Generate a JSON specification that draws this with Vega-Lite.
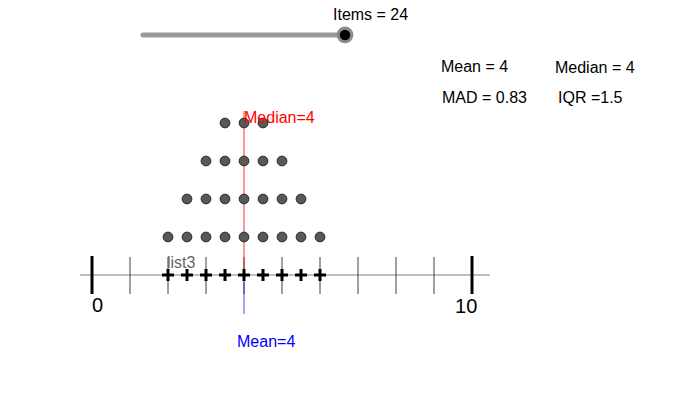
{
  "$schema": "https://vega.github.io/schema/vega-lite/v6.json",
  "width": 700,
  "height": 400,
  "padding": 0,
  "autosize": "none",
  "background": "white",
  "config": {"view": {"stroke": null}, "font": "Liberation Sans"},
  "datasets": {
    "dots": [
      {"value": 2, "stack": 1}, {"value": 2.5, "stack": 1}, {"value": 3, "stack": 1}, {"value": 3.5, "stack": 1}, {"value": 4, "stack": 1}, {"value": 4.5, "stack": 1}, {"value": 5, "stack": 1}, {"value": 5.5, "stack": 1}, {"value": 6, "stack": 1},
      {"value": 2.5, "stack": 2}, {"value": 3, "stack": 2}, {"value": 3.5, "stack": 2}, {"value": 4, "stack": 2}, {"value": 4.5, "stack": 2}, {"value": 5, "stack": 2}, {"value": 5.5, "stack": 2},
      {"value": 3, "stack": 3}, {"value": 3.5, "stack": 3}, {"value": 4, "stack": 3}, {"value": 4.5, "stack": 3}, {"value": 5, "stack": 3},
      {"value": 3.5, "stack": 4}, {"value": 4, "stack": 4}, {"value": 4.5, "stack": 4}
    ],
    "list3": [
      {"value": 2}, {"value": 2.5}, {"value": 3}, {"value": 3.5}, {"value": 4}, {"value": 4.5}, {"value": 5}, {"value": 5.5}, {"value": 6}
    ],
    "ticks": [
      {"t": 1}, {"t": 2}, {"t": 3}, {"t": 4}, {"t": 5}, {"t": 6}, {"t": 7}, {"t": 8}, {"t": 9}
    ],
    "endticks": [{"t": 0}, {"t": 10}]
  },
  "layer": [
    {
      "data": {"values": [{"x1": -0.316, "x2": 10.474, "y": 0}]},
      "mark": {"type": "rule", "color": "#808080", "strokeWidth": 1},
      "encoding": {
        "x": {"field": "x1", "type": "quantitative", "scale": {"domain": [-2.4211, 16.0], "nice": false, "zero": false}, "axis": null},
        "x2": {"field": "x2"},
        "y": {"field": "y", "type": "quantitative", "scale": {"domain": [-3.2895, 7.2368], "nice": false, "zero": false}, "axis": null}
      }
    },
    {
      "data": {"name": "ticks"},
      "mark": {"type": "rule", "color": "#404040", "strokeWidth": 1},
      "encoding": {
        "x": {"field": "t", "type": "quantitative"},
        "y": {"datum": 0.474, "type": "quantitative"},
        "y2": {"datum": -0.5}
      }
    },
    {
      "data": {"name": "endticks"},
      "mark": {"type": "rule", "color": "#000000", "strokeWidth": 3},
      "encoding": {
        "x": {"field": "t", "type": "quantitative"},
        "y": {"datum": 0.5, "type": "quantitative"},
        "y2": {"datum": -0.5}
      }
    },
    {
      "data": {"values": [{"v": 4}]},
      "mark": {"type": "rule", "color": "#ff0000", "strokeWidth": 1, "opacity": 0.8},
      "encoding": {
        "x": {"field": "v", "type": "quantitative"},
        "y": {"datum": 4.316, "type": "quantitative"},
        "y2": {"datum": 0}
      }
    },
    {
      "data": {"values": [{"v": 4}]},
      "mark": {"type": "rule", "color": "#0000ff", "strokeWidth": 1, "opacity": 0.7},
      "encoding": {
        "x": {"field": "v", "type": "quantitative"},
        "y": {"datum": -0.18, "type": "quantitative"},
        "y2": {"datum": -1.026}
      }
    },
    {
      "data": {"name": "list3"},
      "mark": {"type": "point", "shape": "M-1,0L1,0M0,-1L0,1", "filled": false, "stroke": "#000000", "strokeWidth": 3, "size": 144, "opacity": 1},
      "encoding": {
        "x": {"field": "value", "type": "quantitative"},
        "y": {"datum": 0, "type": "quantitative"}
      }
    },
    {
      "data": {"name": "dots"},
      "mark": {"type": "point", "shape": "circle", "filled": true, "fill": "#595959", "stroke": "#262626", "strokeWidth": 1, "size": 95, "opacity": 1},
      "encoding": {
        "x": {"field": "value", "type": "quantitative"},
        "y": {"field": "stack", "type": "quantitative"}
      }
    },
    {
      "data": {"values": [{"x1": 1.342, "x2": 6.658, "y": 6.316}]},
      "mark": {"type": "rule", "color": "#999999", "strokeWidth": 5, "strokeCap": "round"},
      "encoding": {
        "x": {"field": "x1", "type": "quantitative"},
        "x2": {"field": "x2"},
        "y": {"field": "y", "type": "quantitative"}
      }
    },
    {
      "data": {"values": [{"x": 6.658, "y": 6.316}]},
      "mark": {"type": "point", "shape": "circle", "filled": true, "fill": "#8c8c8c", "size": 280, "opacity": 1},
      "encoding": {
        "x": {"field": "x", "type": "quantitative"},
        "y": {"field": "y", "type": "quantitative"}
      }
    },
    {
      "data": {"values": [{"x": 6.658, "y": 6.316}]},
      "mark": {"type": "point", "shape": "circle", "filled": true, "fill": "#000000", "size": 110, "opacity": 1},
      "encoding": {
        "x": {"field": "x", "type": "quantitative"},
        "y": {"field": "y", "type": "quantitative"}
      }
    },
    {
      "data": {"values": [
        {"x": 6.342, "y": 6.842, "label": "Items = 24"},
        {"x": 9.184, "y": 5.474, "label": "Mean = 4"},
        {"x": 12.184, "y": 5.447, "label": "Median = 4"},
        {"x": 9.211, "y": 4.658, "label": "MAD = 0.83"},
        {"x": 12.263, "y": 4.658, "label": "IQR =1.5"}
      ]},
      "mark": {"type": "text", "align": "left", "baseline": "middle", "fontSize": 16, "color": "#000000"},
      "encoding": {
        "x": {"field": "x", "type": "quantitative"},
        "y": {"field": "y", "type": "quantitative"},
        "text": {"field": "label"}
      }
    },
    {
      "data": {"values": [{"x": 4.0, "y": 4.132, "label": "Median=4"}]},
      "mark": {"type": "text", "align": "left", "baseline": "middle", "fontSize": 16, "color": "#ff0000"},
      "encoding": {
        "x": {"field": "x", "type": "quantitative"},
        "y": {"field": "y", "type": "quantitative"},
        "text": {"field": "label"}
      }
    },
    {
      "data": {"values": [{"x": 3.816, "y": -1.763, "label": "Mean=4"}]},
      "mark": {"type": "text", "align": "left", "baseline": "middle", "fontSize": 16, "color": "#0000ff"},
      "encoding": {
        "x": {"field": "x", "type": "quantitative"},
        "y": {"field": "y", "type": "quantitative"},
        "text": {"field": "label"}
      }
    },
    {
      "data": {"values": [{"x": 1.974, "y": 0.316, "label": "list3"}]},
      "mark": {"type": "text", "align": "left", "baseline": "middle", "fontSize": 16, "color": "#666666"},
      "encoding": {
        "x": {"field": "x", "type": "quantitative"},
        "y": {"field": "y", "type": "quantitative"},
        "text": {"field": "label"}
      }
    },
    {
      "data": {"values": [{"x": 0, "y": -0.82, "label": "0"}, {"x": 9.553, "y": -0.84, "label": "10"}]},
      "mark": {"type": "text", "align": "left", "baseline": "middle", "fontSize": 20, "color": "#000000"},
      "encoding": {
        "x": {"field": "x", "type": "quantitative"},
        "y": {"field": "y", "type": "quantitative"},
        "text": {"field": "label"}
      }
    }
  ]
}
